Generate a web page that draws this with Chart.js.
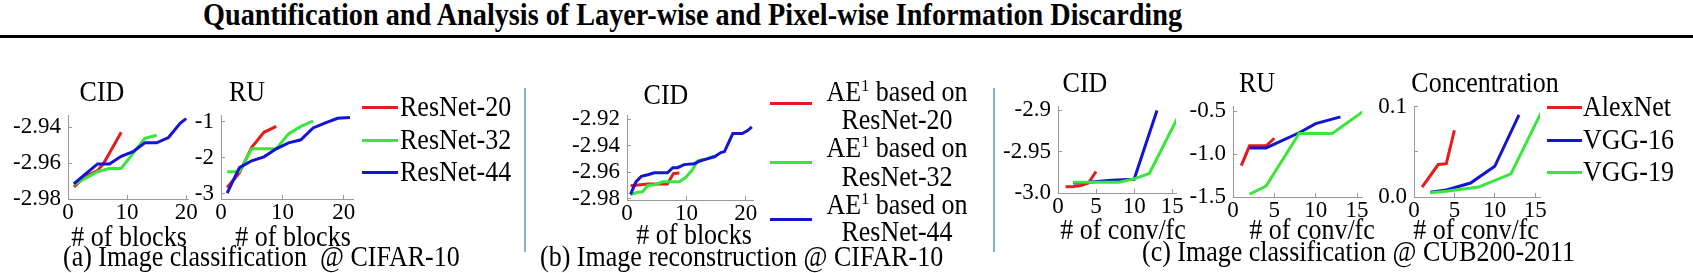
<!DOCTYPE html>
<html>
<head>
<meta charset="utf-8">
<script src="https://cdn.jsdelivr.net/npm/chart.js@4.4.1/dist/chart.umd.min.js"></script>
<style>
  body { margin: 0; width: 1693px; height: 273px; background: #fff; position: relative; overflow: hidden;
         font-family: 'Liberation Serif', 'Times New Roman', serif; color: #000; }
  canvas { position: absolute; }
  .t { position: absolute; white-space: pre; font-family: 'Liberation Serif', serif; font-size: 26px; line-height: 26px; }
  .c { transform: translate(-50%, -50%) scaleY(1.1); }
  .l { transform: translate(0, -50%) scaleY(1.1); transform-origin: 0 50%; }
  .key { position: absolute; height: 3px; }
  .sep { position: absolute; width: 2px; background: #86b1da; top: 88px; height: 164px; }
  #title { position: absolute; left: 203px; top: -2px; font-family: 'Liberation Serif', serif; font-weight: bold;
           font-size: 32px; line-height: 32px; white-space: nowrap; transform-origin: 0 0; }
  #rule { position: absolute; left: 0; top: 35px; width: 1693px; height: 3px; background: #000; }
</style>
</head>
<body>
<div id="title">Quantification and Analysis of Layer-wise and Pixel-wise Information Discarding</div>
<div id="rule"></div>
<div class="sep" style="left:524px"></div>
<div class="sep" style="left:993px"></div>
<script>
// ---- (a) image classification @ CIFAR-10, CID ----
const aCidRedX = [1, 3, 5, 6, 7, 9];
const aCidRedY = [-2.9732, -2.9673, -2.9642, -2.9603, -2.9545, -2.9428];
const aCidGreenX = [1, 5, 7, 9, 13, 15];
const aCidGreenY = [-2.972, -2.9648, -2.963, -2.963, -2.9462, -2.9445];
const aCidBlueX = [1, 5, 7, 9, 11, 13, 15, 17, 19, 20];
const aCidBlueY = [-2.9715, -2.9605, -2.9605, -2.9562, -2.9537, -2.9487, -2.9487, -2.9458, -2.9378, -2.9353];

// ---- (a) RU ----
const aRuRedX = [1, 3, 5, 7, 9];
const aRuRedY = [-2.83, -2.42, -1.71, -1.29, -1.125];
const aRuGreenX = [1, 3, 5, 9, 11, 13, 15];
const aRuGreenY = [-2.39, -2.39, -1.75, -1.75, -1.335, -1.125, -0.975];
const aRuBlueX = [1, 3, 5, 7, 9, 11, 13, 15, 17, 19, 21];
const aRuBlueY = [-2.985, -2.275, -2.085, -1.975, -1.75, -1.585, -1.5, -1.17, -1.025, -0.9, -0.875];

// ---- (b) image reconstruction @ CIFAR-10, CID ----
const bCidRedX = [0.6, 3.5, 6.8, 7.8, 8.8];
const bCidRedY = [-2.9702, -2.9689, -2.9689, -2.9611, -2.9607];
const bCidGreenX = [0.6, 1.8, 2.6, 3.5, 4.6, 6.0, 8.8, 9.9, 11.0, 11.9, 13.3, 14.7];
const bCidGreenY = [-2.977, -2.9752, -2.9748, -2.970, -2.9695, -2.9673, -2.9673, -2.9639, -2.9582, -2.9514, -2.9502, -2.948];
const bCidBlueX = [0.6, 1.5, 2.4, 3.5, 4.6, 6.8, 7.7, 8.5, 9.6, 11.3, 12.4, 13.6, 14.7, 15.8, 16.4, 17.8, 19.4, 20.3, 21.0];
const bCidBlueY = [-2.9768, -2.9673, -2.9632, -2.962, -2.9605, -2.9605, -2.9566, -2.9566, -2.9543, -2.9536, -2.9514,
                   -2.9498, -2.9484, -2.9452, -2.9445, -2.9309, -2.9309, -2.9286, -2.9259];

// ---- (c) image classification @ CUB200-2011 ----
const cCidRedX = [1, 2, 3, 4, 5];
const cCidRedY = [-2.9924, -2.9922, -2.9909, -2.988, -2.974];
const cCidBlueX = [2, 4, 7, 10, 13];
const cCidBlueY = [-2.988, -2.987, -2.9845, -2.9835, -2.9004];
const cCidGreenX = [2, 4, 8, 10, 12, 16];
const cCidGreenY = [-2.987, -2.987, -2.987, -2.983, -2.9765, -2.904];

const cRuRedX = [1, 2, 4, 5];
const cRuRedY = [-1.135, -0.904, -0.904, -0.816];
const cRuBlueX = [2, 4, 8, 10, 13];
const cRuBlueY = [-0.929, -0.929, -0.752, -0.646, -0.567];
const cRuGreenX = [2, 4, 8, 12, 16];
const cRuGreenY = [-1.468, -1.372, -0.76, -0.76, -0.486];

const cConRedX = [1, 3, 4, 5];
const cConRedY = [0.011, 0.036, 0.037, 0.074];
const cConBlueX = [2, 4, 7, 10, 13];
const cConBlueY = [0.0054, 0.0078, 0.0155, 0.034, 0.091];
const cConGreenX = [2, 4, 8, 12, 16];
const cConGreenY = [0.0047, 0.0064, 0.011, 0.0256, 0.0983];

// tick values and labels
const blocksTicks = [0, 10, 20];
const convTicks = [0, 5, 10, 15];
const aCidYTicks = [-2.98, -2.96, -2.94];
const aCidYLabels = ['-2.98', '-2.96', '-2.94'];
const aRuYTicks = [-3, -2, -1];
const aRuYLabels = ['-3', '-2', '-1'];
const bCidYTicks = [-2.98, -2.96, -2.94, -2.92];
const bCidYLabels = ['-2.98', '-2.96', '-2.94', '-2.92'];
const cCidYTicks = [-3.0, -2.95, -2.9];
const cCidYLabels = ['-3.0', '-2.95', '-2.9'];
const cRuYTicks = [-1.5, -1.0, -0.5];
const cRuYLabels = ['-1.5', '-1.0', '-0.5'];
const cConYTicks = [0, 0.05, 0.1];
const cConYLabels = ['0.0', '', '0.1'];

const resnetNames = ['ResNet-20', 'ResNet-32', 'ResNet-44'];
const cubNames = ['AlexNet', 'VGG-16', 'VGG-19'];

const FONT = "'Liberation Serif', serif";
const RED = '#e61c1c', GREEN = '#3ae63a', BLUE = '#1414d6';
const AXIS = '#9a9a9a';
const TICK = 4;   // small inward tick marks

Chart.defaults.font.family = FONT;

function series(x, y, color, order) {
    return {
        data: x.map((v, i) => ({ x: v, y: y[i] })),
        borderColor: color,
        borderWidth: 3,
        pointRadius: 0,
        tension: 0,
        fill: false,
        order: order
    };
}

function addText(text, x, y, cls) {
    const d = document.createElement('div');
    d.className = 't ' + cls;
    d.style.left = x + 'px';
    d.style.top = y + 'px';
    d.innerHTML = text;
    document.body.appendChild(d);
    return d;
}

function makePanel(p) {
    const YW = 80, XH = 30, PT = 16, PR = 22;
    const w = p.r - p.l, h = p.b - p.t;
    const c = document.createElement('canvas');
    c.width = YW + w + PR;
    c.height = PT + h + XH;
    c.style.left = (p.l - YW) + 'px';
    c.style.top = (p.t - PT) + 'px';
    document.body.appendChild(c);
    const tickFont = { family: FONT, size: 23 };
    const grid = { drawOnChartArea: false, drawTicks: true, tickLength: -TICK, color: AXIS };
    new Chart(c, {
        type: 'line',
        data: { datasets: p.series },
        options: {
            responsive: false,
            animation: false,
            events: [],
            layout: { padding: { top: PT, right: PR, left: 0, bottom: 0 } },
            plugins: { legend: { display: false }, tooltip: { enabled: false } },
            scales: {
                x: {
                    type: 'linear', min: p.xr[0], max: p.xr[1],
                    afterBuildTicks: s => { s.ticks = p.xt.map(v => ({ value: v })); },
                    afterFit: s => { s.height = XH; },
                    grid: grid,
                    border: { color: AXIS, width: 1 },
                    ticks: { font: tickFont, color: '#000', padding: TICK, maxRotation: 0, autoSkip: false,
                             callback: v => String(v) }
                },
                y: {
                    type: 'linear', min: p.yr[0], max: p.yr[1],
                    afterBuildTicks: s => { s.ticks = p.yt.map(v => ({ value: v })); },
                    afterFit: s => { s.width = YW; },
                    grid: grid,
                    border: { color: AXIS, width: 1 },
                    ticks: { font: tickFont, color: '#000', padding: 7 + TICK, autoSkip: false,
                             callback: (v, i) => p.ytl[i] }
                }
            }
        }
    });
}

// panels: plot-area rectangles in page pixels
makePanel({ l: 68, t: 107, r: 188, b: 199, xr: [0, 20.3], yr: [-2.98, -2.9337], xt: blocksTicks,
            yt: aCidYTicks, ytl: aCidYLabels,
            series: [series(aCidRedX, aCidRedY, RED, 3), series(aCidGreenX, aCidGreenY, GREEN, 2),
                     series(aCidBlueX, aCidBlueY, BLUE, 1)] });
makePanel({ l: 221, t: 107, r: 353, b: 199, xr: [0, 21.5], yr: [-3.15, -0.83], xt: blocksTicks,
            yt: aRuYTicks, ytl: aRuYLabels,
            series: [series(aRuRedX, aRuRedY, RED, 3), series(aRuGreenX, aRuGreenY, GREEN, 2),
                     series(aRuBlueX, aRuBlueY, BLUE, 1)] });
makePanel({ l: 627, t: 107, r: 753, b: 200, xr: [0, 21.2], yr: [-2.981, -2.9175], xt: blocksTicks,
            yt: bCidYTicks, ytl: bCidYLabels,
            series: [series(bCidRedX, bCidRedY, RED, 3), series(bCidGreenX, bCidGreenY, GREEN, 2),
                     series(bCidBlueX, bCidBlueY, BLUE, 1)] });
makePanel({ l: 1058, t: 98, r: 1176, b: 193, xr: [0, 15.5], yr: [-3.0, -2.896], xt: convTicks,
            yt: cCidYTicks, ytl: cCidYLabels,
            series: [series(cCidRedX, cCidRedY, RED, 3), series(cCidBlueX, cCidBlueY, BLUE, 2),
                     series(cCidGreenX, cCidGreenY, GREEN, 1)] });
makePanel({ l: 1233, t: 98, r: 1362, b: 197, xr: [0, 15.6], yr: [-1.5, -0.45], xt: convTicks,
            yt: cRuYTicks, ytl: cRuYLabels,
            series: [series(cRuRedX, cRuRedY, RED, 3), series(cRuBlueX, cRuBlueY, BLUE, 2),
                     series(cRuGreenX, cRuGreenY, GREEN, 1)] });
makePanel({ l: 1414, t: 98, r: 1540, b: 197, xr: [0, 15.6], yr: [0, 0.1], xt: convTicks,
            yt: cConYTicks, ytl: cConYLabels,
            series: [series(cConRedX, cConRedY, RED, 3), series(cConBlueX, cConBlueY, BLUE, 2),
                     series(cConGreenX, cConGreenY, GREEN, 1)] });

// panel titles
addText('CID', 102, 92, 'c');
addText('RU', 247, 92, 'c');
addText('CID', 666, 95, 'c');
addText('CID', 1085, 83, 'c');
addText('RU', 1257, 83, 'c');
addText('Concentration', 1485, 83, 'c');

// axis titles
addText('# of blocks', 129, 237, 'c');
addText('# of blocks', 293, 237, 'c');
addText('# of blocks', 694, 235, 'c');
addText('# of conv/fc', 1123, 230, 'c');
addText('# of conv/fc', 1312, 230, 'c');
addText('# of conv/fc', 1476, 230, 'c');

// captions
addText('(a) Image classification  @ CIFAR-10', 63, 257, 'l');
addText('(b) Image reconstruction @ CIFAR-10', 540, 257, 'l');
addText('(c) Image classification @ CUB200-2011', 1142, 252, 'l');

// legends
function key(x1, x2, y, color) {
    const d = document.createElement('div');
    d.className = 'key';
    d.style.left = x1 + 'px';
    d.style.width = (x2 - x1) + 'px';
    d.style.top = (y - 1.5) + 'px';
    d.style.background = color;
    document.body.appendChild(d);
}
const colors = [RED, GREEN, BLUE];
const cubColors = [RED, BLUE, GREEN];
[107, 140, 172].forEach((y, i) => {
    key(362, 398, y, colors[i]);
    addText(resnetNames[i], 400, y, 'l');
    key(1547, 1582, y, cubColors[i]);
    addText(cubNames[i], 1583, y, 'l');
});
[[103, 92, 120], [162, 148, 177], [219, 205, 232]].forEach((r, i) => {
    key(770, 812, r[0], colors[i]);
    addText('AE<sup style="font-size:16px;vertical-align:9px;line-height:0">1</sup> based on', 897, r[1], 'c');
    addText(resnetNames[i], 897, r[2], 'c');
});

// main title squeezed to the reference width
const title = document.getElementById('title');
title.style.transform = 'scaleX(' + (979 / title.getBoundingClientRect().width) + ')';
</script>
</body>
</html>
